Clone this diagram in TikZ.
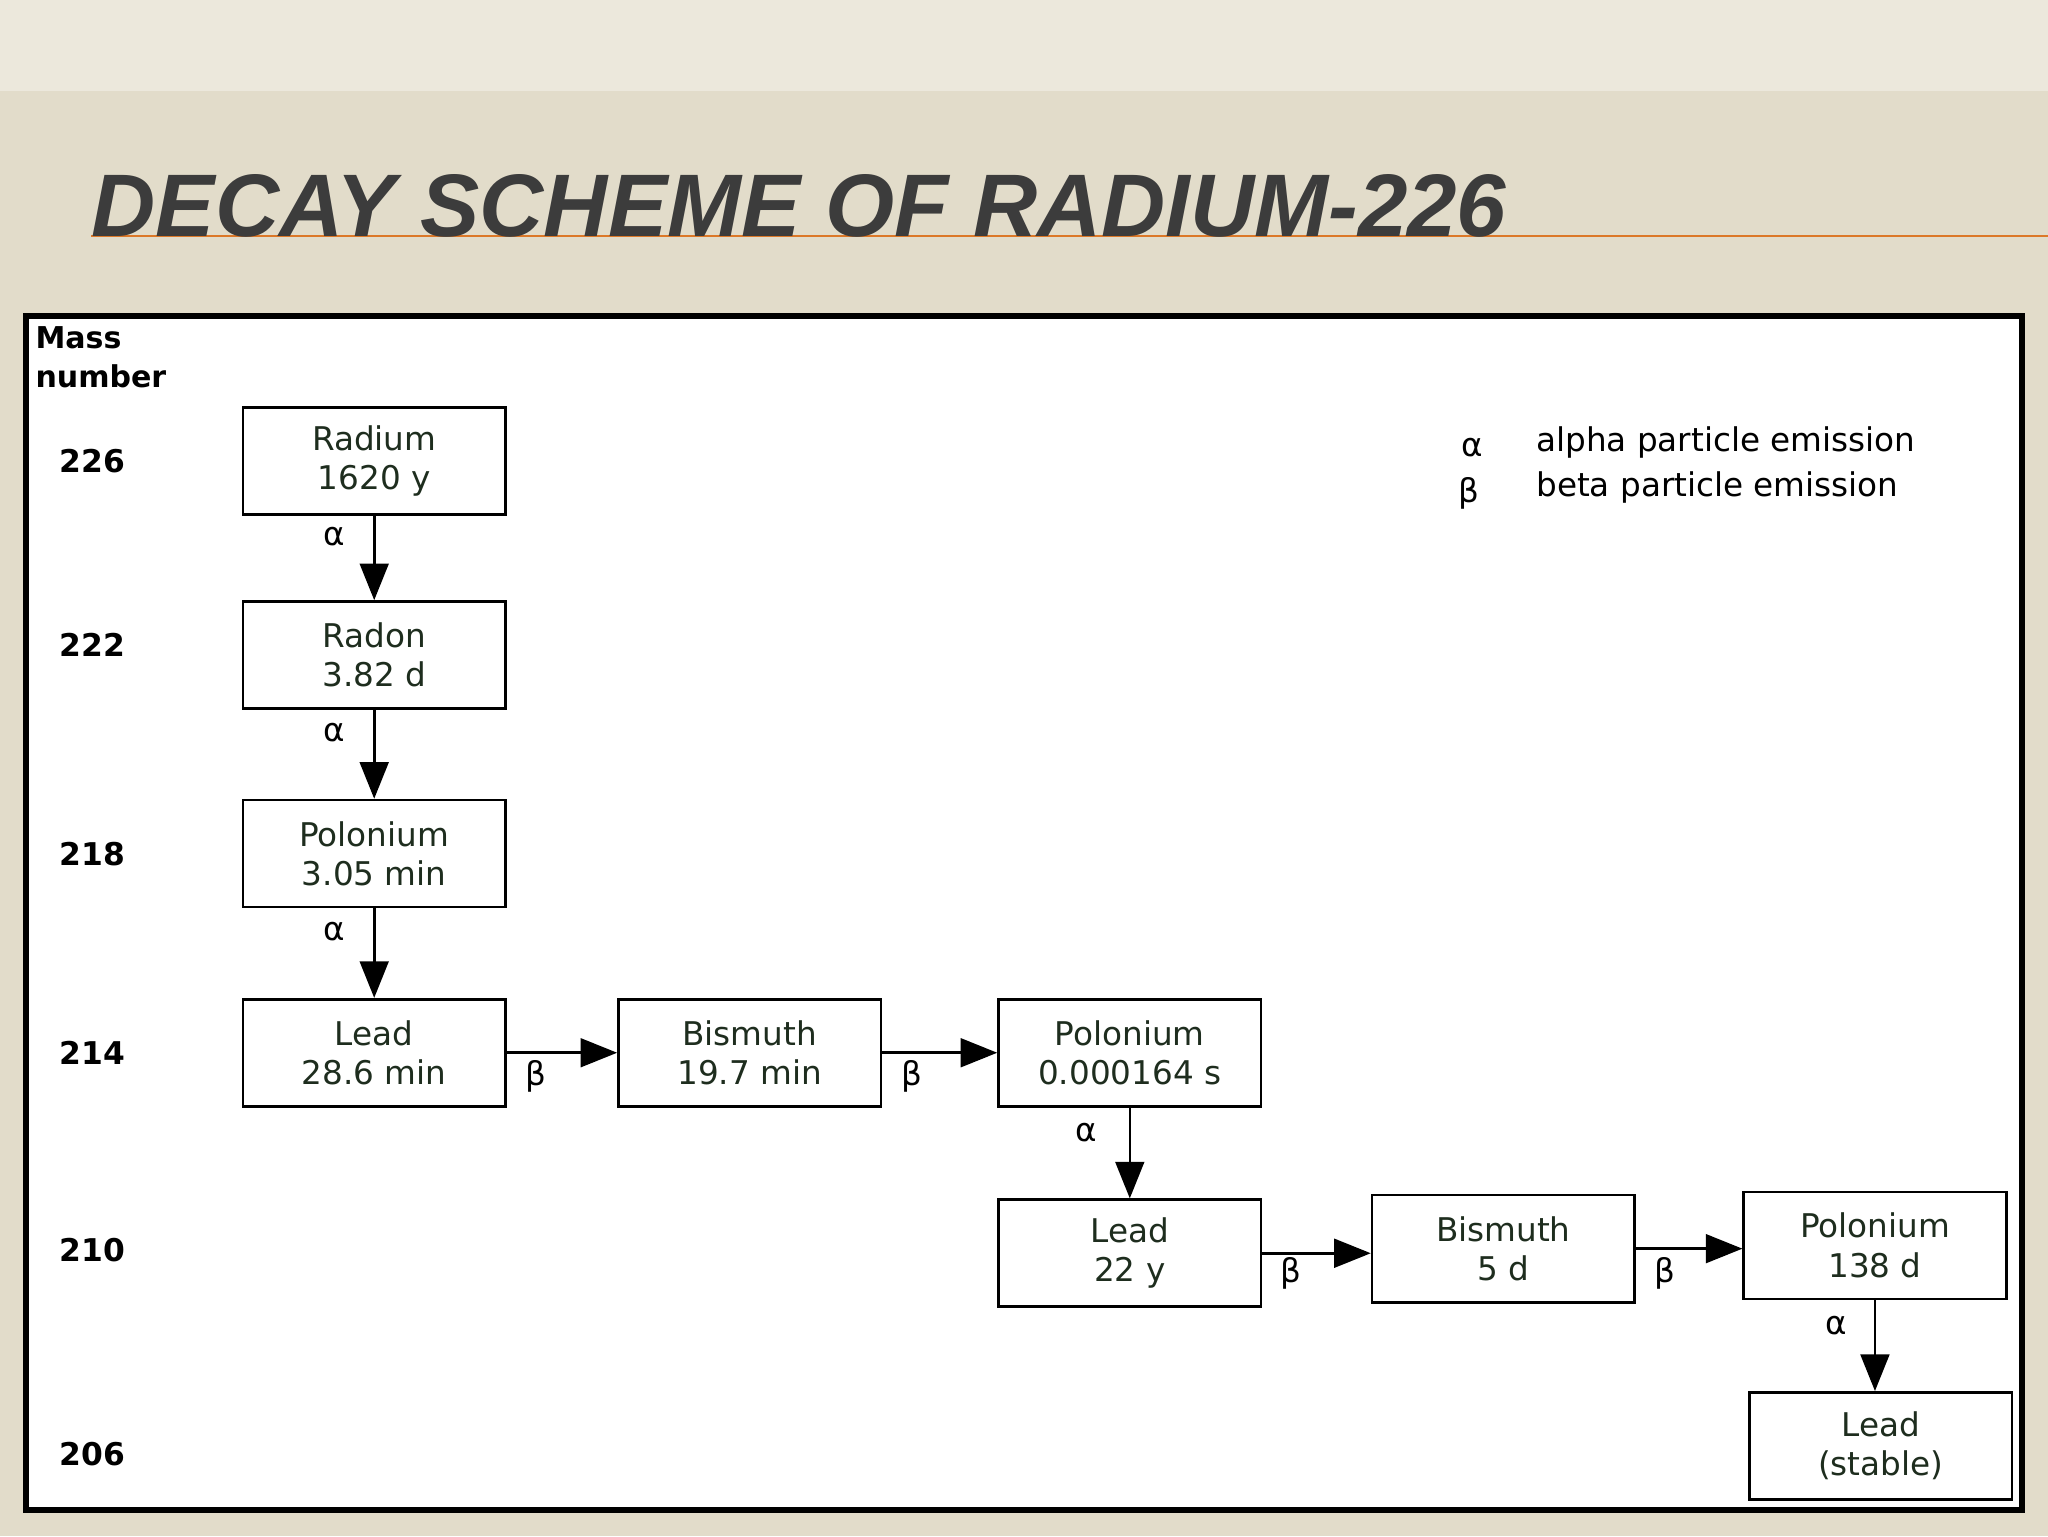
\documentclass[tikz,border=0pt]{standalone}
\usepackage{fontspec}
\setmainfont{DejaVu Sans}
\newfontfamily\ttlfont{Liberation Sans}
\usetikzlibrary{arrows.meta}
\definecolor{bg}{RGB}{226,220,202}
\definecolor{bgtop}{RGB}{236,232,220}
\definecolor{txt}{RGB}{30,45,30}
\definecolor{ttl}{RGB}{60,60,60}
\definecolor{org}{RGB}{220,120,40}
\begin{document}
\begin{tikzpicture}[x=1pt,y=-1pt,
  box/.style={draw=black,line width=2pt,fill=white,minimum width=201pt,minimum height=82pt,align=center,font=\fontsize{25}{30}\selectfont,text=txt,inner sep=0pt},
  mass/.style={font=\bfseries\fontsize{24}{30}\selectfont,anchor=west},
  lab/.style={font=\fontsize{25}{30}\selectfont},
  arr/.style={line width=2pt,-{Triangle[length=28pt,width=22pt]}}]
\useasboundingbox (0,0) rectangle (1568,1176);
\fill[bg] (0,0) rectangle (1568,1176);
\fill[bgtop] (0,0) rectangle (1568,70);
\draw[org,line width=1.5pt] (70,181) -- (1568,181);
\node[anchor=base west,font=\ttlfont\bfseries\itshape\fontsize{68}{70}\selectfont,text=ttl,inner sep=0pt] (title) at (70,181) {DECAY SCHEME OF RADIUM-226};
\draw[line width=5pt,fill=white] (20,242) rectangle (1548,1156);
\node[anchor=north west,align=left,font=\bfseries\fontsize{23}{30}\selectfont,inner sep=0pt] (mn) at (27,250) {Mass\\number};
\node[mass] (m226) at (42,353) {226};
\node[mass] (m222) at (42,494) {222};
\node[mass] (m218) at (42,654) {218};
\node[mass] (m214) at (42,806) {214};
\node[mass] (m210) at (42,957) {210};
\node[mass] (m206) at (42,1113) {206};
\node[lab] (la) at (1127,343) {α};
\node[lab] (lb) at (1125,378) {β};
\node[lab,anchor=west,inner sep=0pt] (lat) at (1176,339) {alpha particle emission};
\node[lab,anchor=west,inner sep=0pt] (lbt) at (1176,373) {beta particle emission};
\node[box] (ra) at (286.5,353) {Radium\\1620 y};
\node[box] (rn) at (286.5,501.5) {Radon\\3.82 d};
\node[box] (po1) at (286.5,653.5) {Polonium\\3.05 min};
\node[box] (pb1) at (286.5,806) {Lead\\28.6 min};
\node[box] (bi1) at (574,806) {Bismuth\\19.7 min};
\node[box] (po2) at (865,806) {Polonium\\0.000164 s};
\node[box] (pb2) at (865,959.5) {Lead\\22 y};
\node[box] (bi2) at (1151,956) {Bismuth\\5 d};
\node[box] (po3) at (1435.5,953.5) {Polonium\\138 d};
\node[box] (pb3) at (1440,1107) {Lead\\(stable)};
\draw[arr] (ra) -- (rn);
\draw[arr] (rn) -- (po1);
\draw[arr] (po1) -- (pb1);
\draw[arr] (pb1) -- (bi1);
\draw[arr] (bi1) -- (po2);
\draw[arr] (po2) -- (pb2);
\draw[arr] (pb2.east) -- (bi2.west|-pb2.east);
\draw[arr] (bi2.east) -- (po3.west|-bi2.east);
\draw[arr] (po3.south) -- (po3.south|-pb3.north);
\node[lab] (a1) at (256,411) {α};
\node[lab] (a2) at (256,561) {α};
\node[lab] (a3) at (256,713) {α};
\node[lab] (a4) at (832,867) {α};
\node[lab] (a5) at (1406,1015) {α};
\node[lab] (b1) at (410,824) {β};
\node[lab] (b2) at (698,824) {β};
\node[lab] (b3) at (988,975) {β};
\node[lab] (b4) at (1275,975) {β};
\end{tikzpicture}
\end{document}
